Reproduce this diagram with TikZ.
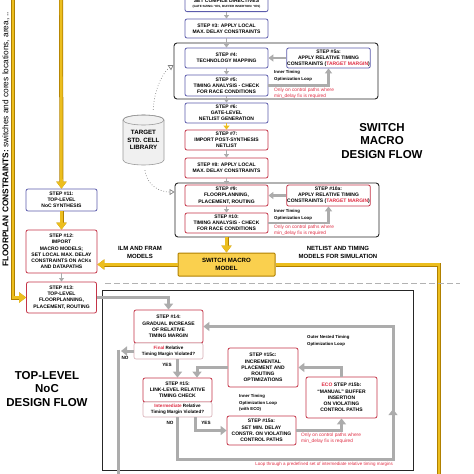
\documentclass[tikz,border=0pt]{standalone}
\usepackage{fontspec}
\setmainfont{Liberation Sans}
\usetikzlibrary{arrows.meta,decorations.markings}

\definecolor{stepblue}{RGB}{92,92,172}
\definecolor{stepred}{RGB}{196,52,72}
\definecolor{redtext}{RGB}{222,44,66}
\definecolor{loopgray}{RGB}{172,172,172}
\definecolor{goldlt}{RGB}{236,190,30}
\definecolor{golddk}{RGB}{176,128,0}
\definecolor{modelfill}{RGB}{250,208,78}
\definecolor{condline}{RGB}{214,170,178}

\tikzset{
  stepbox/.style = {draw, rounded corners=2pt, fill=white, line width=0.8pt,
                    align=center, inner sep=0.5pt,
                    font=\fontsize{5}{6.2}\selectfont\bfseries},
  bluestep/.style = {stepbox, draw=stepblue, minimum width=#1},
  bluestep/.default = 83pt,
  redstep/.style = {stepbox, draw=stepred, minimum width=#1},
  redstep/.default = 83pt,
  condbox/.style = {stepbox, draw=condline, line width=0.6pt,
                    font=\fontsize{4.6}{5.8}\selectfont\bfseries},
  loopgroup/.style = {draw=black!85, line width=0.9pt, rounded corners=3pt, inner sep=0pt},
  flowline/.style = {draw=loopgray, line width=0.7pt, -{Triangle[width=5pt,length=3.5pt]}},
  sideloop/.style = {draw=loopgray, line width=2.2pt, -{Triangle[width=7pt,length=5pt]}},
  loopbar/.style = {draw=loopgray, line width=3pt},
  loopline/.style = {loopbar, -{Triangle[width=9pt,length=6pt]}},
  feedbar/.style = {draw=goldlt, line width=2.6pt, preaction={draw=golddk, line width=4pt}},
  feedline/.style = {feedbar, -{Triangle[width=10pt,length=7pt]}},
  feedsmall/.style = {draw=goldlt, line width=1.2pt, -{Triangle[width=6pt,length=4pt]}},
  libref/.style = {draw=gray, dotted, line width=0.7pt, -{Triangle[open,width=6pt,length=5pt]}},
  note/.style = {align=left, inner sep=0pt, anchor=west, font=\fontsize{4.3}{6.8}\selectfont\bfseries},
  rednote/.style = {note, text=redtext, font=\fontsize{4.8}{6.3}\selectfont},
  label/.style = {align=center, inner sep=0pt, font=\fontsize{6}{8}\selectfont\bfseries},
  title/.style = {align=center, inner sep=0pt, font=\fontsize{11.5}{13.5}\selectfont\bfseries},
  midup/.style = {postaction={decorate}, decoration={markings,
                  mark=at position #1 with {\arrow[loopgray]{Triangle[width=9pt,length=6pt]}}}}
}

\begin{document}
\begin{tikzpicture}[x=1pt, y=-1pt]
	\useasboundingbox (0,0) rectangle (474,474);
	\clip (0,0) rectangle (474,474);
	\def\colx{226.5}
	\def\sidex{328.5}
	\def\nocx{61.5}
	
	% Loop groups
	\node[loopgroup, minimum width=204pt, minimum height=56pt] (grp1) at (276,71) {};
	\node[loopgroup, minimum width=204pt, minimum height=54pt] (grp2) at (277,210) {};
	\node[loopgroup, rounded corners=0pt, minimum width=311pt, minimum height=180pt] (nocloop) at (257.5,380) {};
	
	% Switch macro flow
	\node[bluestep, minimum height=16pt, anchor=south] (s2) at (\colx,12) {SET COMPILE DIRECTIVES\\[-1pt]{\fontsize{3}{4}\selectfont (GATE SIZING: YES, BUFFER INSERTION: YES)}};
	\node[bluestep, minimum height=19pt] (s3) at (\colx,28.5) {STEP \#3: APPLY LOCAL\\MAX. DELAY CONSTRAINTS};
	\node[bluestep, minimum height=20pt] (s4) at (\colx,58) {STEP \#4:\\TECHNOLOGY MAPPING};
	\node[bluestep, minimum height=21pt] (s5) at (\colx,85.5) {STEP \#5:\\TIMING ANALYSIS - CHECK\\FOR RACE CONDITIONS};
	\node[bluestep, minimum height=20pt] (s5a) at (\sidex,58) {STEP \#5a:\\APPLY RELATIVE TIMING\\CONSTRAINTS (\textcolor{redtext}{TARGET MARGIN})};
	\node[bluestep, minimum height=20pt] (s6) at (\colx,113) {STEP \#6:\\GATE-LEVEL\\NETLIST GENERATION};
	\node[redstep, minimum height=20pt] (s7) at (\colx,140) {STEP \#7:\\IMPORT POST-SYNTHESIS\\NETLIST};
	\node[redstep, minimum height=20pt] (s8) at (\colx,168) {STEP \#8: APPLY LOCAL\\MAX. DELAY CONSTRAINTS};
	\node[redstep, minimum height=21pt] (s9) at (\colx,195.5) {STEP \#9:\\FLOORPLANNING,\\PLACEMENT, ROUTING};
	\node[redstep, minimum height=20pt] (s10) at (\colx,223) {STEP \#10:\\TIMING ANALYSIS - CHECK\\FOR RACE CONDITIONS};
	\node[redstep, minimum height=21pt] (s10a) at (\sidex,195.5) {STEP \#10a:\\APPLY RELATIVE TIMING\\CONSTRAINTS (\textcolor{redtext}{TARGET MARGIN})};
	\node[stepbox, draw=golddk, fill=modelfill, line width=1pt, rounded corners=1pt,
	      minimum width=97pt, minimum height=23pt, font=\fontsize{6.1}{7.5}\selectfont\bfseries] (model) at (\colx,264.5) {SWITCH MACRO\\MODEL};
	
	% Target library
	\filldraw[fill=gray!12, draw=gray!80, line width=0.6pt] (123,120) -- (123,160)
		arc[start angle=180, end angle=0, x radius=20.5, y radius=5] -- (164,120)
		arc[start angle=0, end angle=-180, x radius=20.5, y radius=5] -- cycle;
	\draw[gray!80, line width=0.6pt] (143.5,120) ellipse [x radius=20.5, y radius=5];
	\node[label, minimum width=41pt, minimum height=50pt, font=\fontsize{6.2}{7.5}\selectfont\bfseries] (lib) at (143.5,140) {TARGET\\STD. CELL\\LIBRARY};
	
	% Top-level NoC flow
	\node[bluestep=71pt, minimum height=22pt] (s11) at (\nocx,200) {STEP \#11:\\TOP-LEVEL\\NoC SYNTHESIS};
	\node[redstep=71pt, minimum height=43pt] (s12) at (\nocx,251.5) {STEP \#12:\\IMPORT\\MACRO MODELS;\\SET LOCAL MAX. DELAY\\CONSTRAINTS ON ACKs\\AND DATAPATHS};
	\node[redstep=70pt, minimum height=31pt] (s13) at (\nocx,297.5) {STEP \#13:\\TOP-LEVEL\\FLOORPLANNING,\\PLACEMENT, ROUTING};
	\node[redstep=69pt, minimum height=33pt] (s14) at (168.5,326.5) {STEP \#14:\\GRADUAL INCREASE\\OF RELATIVE\\TIMING MARGIN};
	\node[condbox, minimum width=69pt, minimum height=16pt] (c14) at (168.5,351) {\textcolor{redtext}{Final} Relative\\Timing Margin Violated?};
	\node[redstep=69pt, minimum height=24pt] (s15) at (177.5,390) {STEP \#15:\\LINK-LEVEL RELATIVE\\TIMING CHECK};
	\node[condbox, minimum width=69pt, minimum height=15pt] (c15) at (177.5,409.5) {\textcolor{redtext}{Intermediate} Relative\\Timing Margin Violated?};
	\node[redstep=69pt, minimum height=29pt] (s15a) at (261.5,430.5) {STEP \#15a:\\SET MIN. DELAY\\CONSTR. ON VIOLATING\\CONTROL PATHS};
	\node[redstep=70pt, minimum height=39pt] (s15c) at (263,367.5) {STEP \#15c:\\INCREMENTAL\\PLACEMENT AND\\ROUTING\\OPTIMIZATIONS};
	\node[redstep=71pt, minimum height=41pt] (s15b) at (341.5,397.5) {\textcolor{redtext}{ECO} STEP \#15b:\\``MANUAL'' BUFFER\\INSERTION\\ON VIOLATING\\CONTROL PATHS};
	
	% Free ends
	\coordinate (bar1top) at (13,-5);
	\coordinate (bar2top) at (61,-5);
	\coordinate (simout) at (439,480);
	\coordinate (noexit) at (121,351);
	\coordinate (nodrop) at (118,349.5);
	\coordinate (noend) at (118,480);
	
	% Step arrows
	\draw[flowline] (s2) -- (s3);
	\draw[flowline] (s3) -- (s4);
	\draw[flowline] (s4) -- (s5);
	\draw[flowline] (s5) -- (s6);
	\draw[feedsmall] (s6) -- (s7);
	\draw[flowline] (s7) -- (s8);
	\draw[flowline] (s8) -- (s9);
	\draw[flowline] (s9) -- (s10);
	\draw[flowline] (s12) -- (s13);
	
	% Inner timing loops
	\draw[sideloop] (s5a) -- (s4);
	\draw[sideloop] (s5.east) -| (s5a.south);
	\draw[sideloop] (s10a) -- (s9);
	\draw[sideloop] (s10.east) -| (s10a.south);
	
	% Library references
	\draw[libref] ([xshift=-11pt,yshift=5pt]lib.north east) .. controls (154,90) and (163,72) .. ([yshift=6pt]grp1.west);
	\draw[libref] ([xshift=1.5pt,yshift=-5pt]lib.south) .. controls (147,186) and (160,192) .. ([yshift=18pt]grp2.west);
	
	% Models and constraints
	\draw[feedline] (model.north |- grp2.south) -- (model.north);
	\draw[feedline] (model.west) -- (model.west -| s12.east);
	\draw[feedbar] (model.east) -| (simout);
	\draw[feedline] (bar1top) |- (s13.west);
	\draw[feedline] (bar2top) -- (s11);
	\draw[feedline] (s11) -- (s12);
	
	% NoC timing loops
	\draw[loopline] (s13.east) -| (s14.north);
	\draw[loopline] (c14.west) -- (noexit);
	\draw[loopbar] (nodrop) -- (noend);
	\draw[loopline] (s15.north |- c14.south) -- (s15.north);
	\draw[loopline] (s15c.west) -| ([xshift=19.5pt]s15.north);
	\draw[loopline, midup=0.53] (c15.south) |- (393,459) |- (s14.east);
	\draw[loopline] ([xshift=17.5pt]c15.south) |- (s15a.west);
	\draw[loopline] (s15a.east) -| (s15b.south);
	\draw[loopline] (s15b.north) |- (s15c.east);
	
	% Separator
	\draw[gray!60, line width=0.7pt, dash pattern=on 6pt off 3pt] (105,283) -- (460,283);
	
	% Labels
	\node[note] (in1) at (274,75.5) {Inner Timing\\Optimization Loop};
	\node[rednote] (rd1) at (274,93) {Only on control paths where\\min\_delay fix is required};
	\node[note] (in2) at (274,214.5) {Inner Timing\\Optimization Loop};
	\node[rednote] (rd2) at (274,230) {Only on control paths where\\min\_delay fix is required};
	\node[note] (outer) at (307,340.5) {Outer Nested Timing\\Optimization Loop};
	\node[note] (ineco) at (239,403) {Inner Timing\\Optimization Loop\\(with ECO)};
	\node[rednote] (rd3) at (301,438) {Only on control paths where\\min\_delay fix is required};
	\node[rednote, anchor=east, font=\fontsize{4.5}{5.5}\selectfont] (rd4) at (393,464) {Loop through a predefined set of intermediate relative timing margins};
	\node[note, anchor=center, font=\fontsize{4.6}{5}\selectfont\bfseries] (no14) at (125,358) {NO};
	\node[note, anchor=center, font=\fontsize{4.6}{5}\selectfont\bfseries] (yes14) at (167,365) {YES};
	\node[note, anchor=center, font=\fontsize{4.6}{5}\selectfont\bfseries] (no15) at (170,423) {NO};
	\node[note, anchor=center, font=\fontsize{4.6}{5}\selectfont\bfseries] (yes15) at (206,423) {YES};
	\node[label] (ilm) at (140,252) {ILM AND FRAM\\MODELS};
	\node[label] (sim) at (338,252) {NETLIST AND TIMING\\MODELS FOR SIMULATION};
	\node[title] (swtitle) at (382,141) {SWITCH\\MACRO\\DESIGN FLOW};
	\node[title] (noctitle) at (47,389) {TOP-LEVEL\\NoC\\DESIGN FLOW};
	\node[rotate=90, anchor=west, inner sep=0pt, font=\fontsize{8.3}{9}\selectfont] (fpc) at (6,267) {\textbf{FLOORPLAN CONSTRAINTS:} switches and cores locations, area, ..};
	
\end{tikzpicture}
\end{document}
